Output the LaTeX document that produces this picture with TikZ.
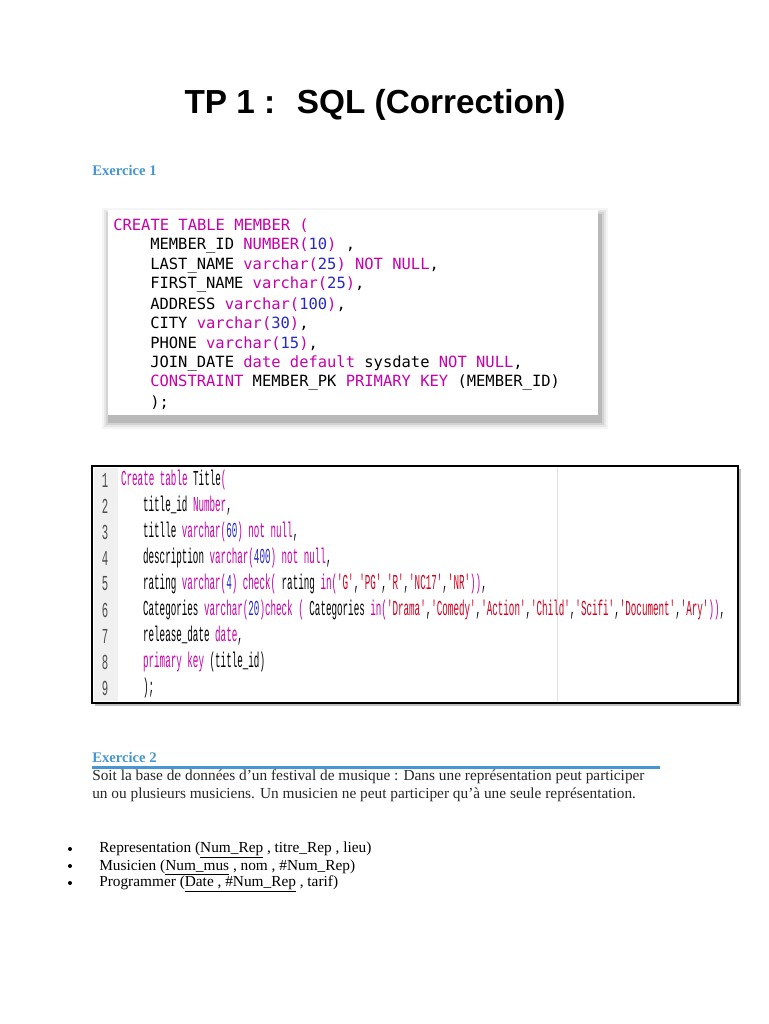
\documentclass[tikz,border=0pt]{standalone}
\usepackage{fontspec}
\setmainfont{Liberation Serif}
\newfontfamily\titlefont{Liberation Sans}
\newfontfamily\codeA{DejaVu Sans Mono}
\newfontfamily\codeB{Liberation Mono}
\definecolor{kw}{RGB}{200,0,170}
\definecolor{nm}{RGB}{40,40,200}
\definecolor{st}{RGB}{210,0,30}
\definecolor{exb}{RGB}{70,150,210}
\definecolor{txt}{RGB}{40,40,40}
\newcommand{\kw}[1]{\textcolor{kw}{#1}}
\newcommand{\nm}[1]{\textcolor{nm}{#1}}
\newcommand{\st}[1]{\textcolor{st}{#1}}
\tikzset{
 codeone/.style={anchor=west,inner sep=0pt,font=\codeA\fontsize{11.6pt}{12pt}\selectfont},
 codetwo/.style={anchor=west,inner sep=0pt,xscale=0.433,font=\codeB\fontsize{16pt}{17pt}\selectfont},
 lnum/.style={anchor=center,inner sep=0pt,xscale=0.5,font=\codeB\fontsize{16pt}{17pt}\selectfont,text=black!70},
 exo/.style={anchor=west,inner sep=0pt,font=\bfseries\fontsize{11pt}{12pt}\selectfont,text=exb},
 para/.style={anchor=west,inner sep=0pt,font=\fontsize{11.5pt}{13pt}\selectfont,text=txt},
}
\begin{document}
\begin{tikzpicture}[x=0.75pt,y=-0.75pt]
\useasboundingbox[fill=white] (0,0) rectangle (768,1024);
\node[inner sep=0pt,font=\titlefont\bfseries\fontsize{25pt}{27pt}\selectfont] (title) at (375,105) {TP 1 :~ SQL (Correction)};
\node[exo] (ex1) at (92,170) {Exercice 1};
% code 1 with shadow
\foreach \i/\o in {8/0.04,6/0.06,4/0.08,2/0.12}{
 \fill[black,opacity=\o] (108-\i+2,210-\i+6) rectangle (598+\i+2,415+\i+6);}
\fill[white] (108,210) rectangle (598,415);
\node[codeone] (c1) at (113,226) {\kw{CREATE TABLE MEMBER (}};
\node[codeone] (c2) at (150,245.6) {MEMBER\_ID \kw{NUMBER(}\nm{10}\kw{)} ,};
\node[codeone] (c3) at (150,265.2) {LAST\_NAME \kw{varchar(}\nm{25}\kw{) NOT NULL},};
\node[codeone] (c4) at (150,284.8) {FIRST\_NAME \kw{varchar(}\nm{25}\kw{)},};
\node[codeone] (c5) at (150,304.4) {ADDRESS \kw{varchar(}\nm{100}\kw{)},};
\node[codeone] (c6) at (150,324) {CITY \kw{varchar(}\nm{30}\kw{)},};
\node[codeone] (c7) at (150,343.6) {PHONE \kw{varchar(}\nm{15}\kw{)},};
\node[codeone] (c8) at (150,363.2) {JOIN\_DATE \kw{date default} sysdate \kw{NOT NULL},};
\node[codeone] (c9) at (150,382.8) {\kw{CONSTRAINT} MEMBER\_PK \kw{PRIMARY KEY} (MEMBER\_ID)};
\node[codeone] (c10) at (150,402.4) {);};
% code 2
\fill[black!25] (95,469) rectangle (741,706);
\fill[white] (92,466) rectangle (738,703);
\fill[black!6] (94,468) rectangle (118,701);
\draw[black!12] (557,468) -- (557,701);
\draw[black,line width=2.2pt] (92,466) rectangle (738,703);
\foreach \n in {1,...,9}{\node[lnum] (l\n) at (105,{480+26*(\n-1)}) {\n};}
\node[codetwo] (d1) at (121,480) {\kw{Create table} Title\kw{(}};
\node[codetwo] (d2) at (143,506) {title\_id \kw{Number},};
\node[codetwo] (d3) at (143,532) {titlle \kw{varchar(}\nm{60}\kw{) not null},};
\node[codetwo] (d4) at (143,558) {description \kw{varchar(}\nm{400}\kw{) not null},};
\node[codetwo] (d5) at (143,584) {rating  \kw{varchar(}\nm{4}\kw{) check(} rating \kw{in(}\st{'G'},\st{'PG'},\st{'R'},\st{'NC17'},\st{'NR'}\kw{))},};
\node[codetwo] (d6) at (143,610) {Categories  \kw{varchar(}\nm{20}\kw{)check (} Categories \kw{in(}\st{'Drama'},\st{'Comedy'},\st{'Action'},\st{'Child'},\st{'Scifi'},\st{'Document'},\st{'Ary'}\kw{))},};
\node[codetwo] (d7) at (143,636) {release\_date \kw{date},};
\node[codetwo] (d8) at (143,662) {\kw{primary key} (title\_id)};
\node[codetwo] (d9) at (143,688) {);};
% exercice 2
\node[exo] (ex2) at (92,757) {Exercice 2};
\draw[exb,line width=1.6pt] (92,767.5) -- (660,767.5);
\node[para] (p1) at (92,777) {Soit la base de données d’un festival de musique : Dans une représentation peut participer};
\node[para] (p2) at (92,795) {un ou plusieurs musiciens. Un musicien ne peut participer qu’à une seule représentation.};
\foreach \y in {849,866,883}{\fill[black] (70,\y) circle (2);}
\node[para,text=black] (r1) at (99,850) {Representation (\underline{Num\_Rep} , titre\_Rep , lieu)};
\node[para,text=black] (r2) at (99,867) {Musicien (\underline{Num\_mus} , nom , \#Num\_Rep)};
\node[para,text=black] (r3) at (99,884) {Programmer (\underline{Date , \#Num\_Rep} , tarif)};
\end{tikzpicture}
\end{document}
